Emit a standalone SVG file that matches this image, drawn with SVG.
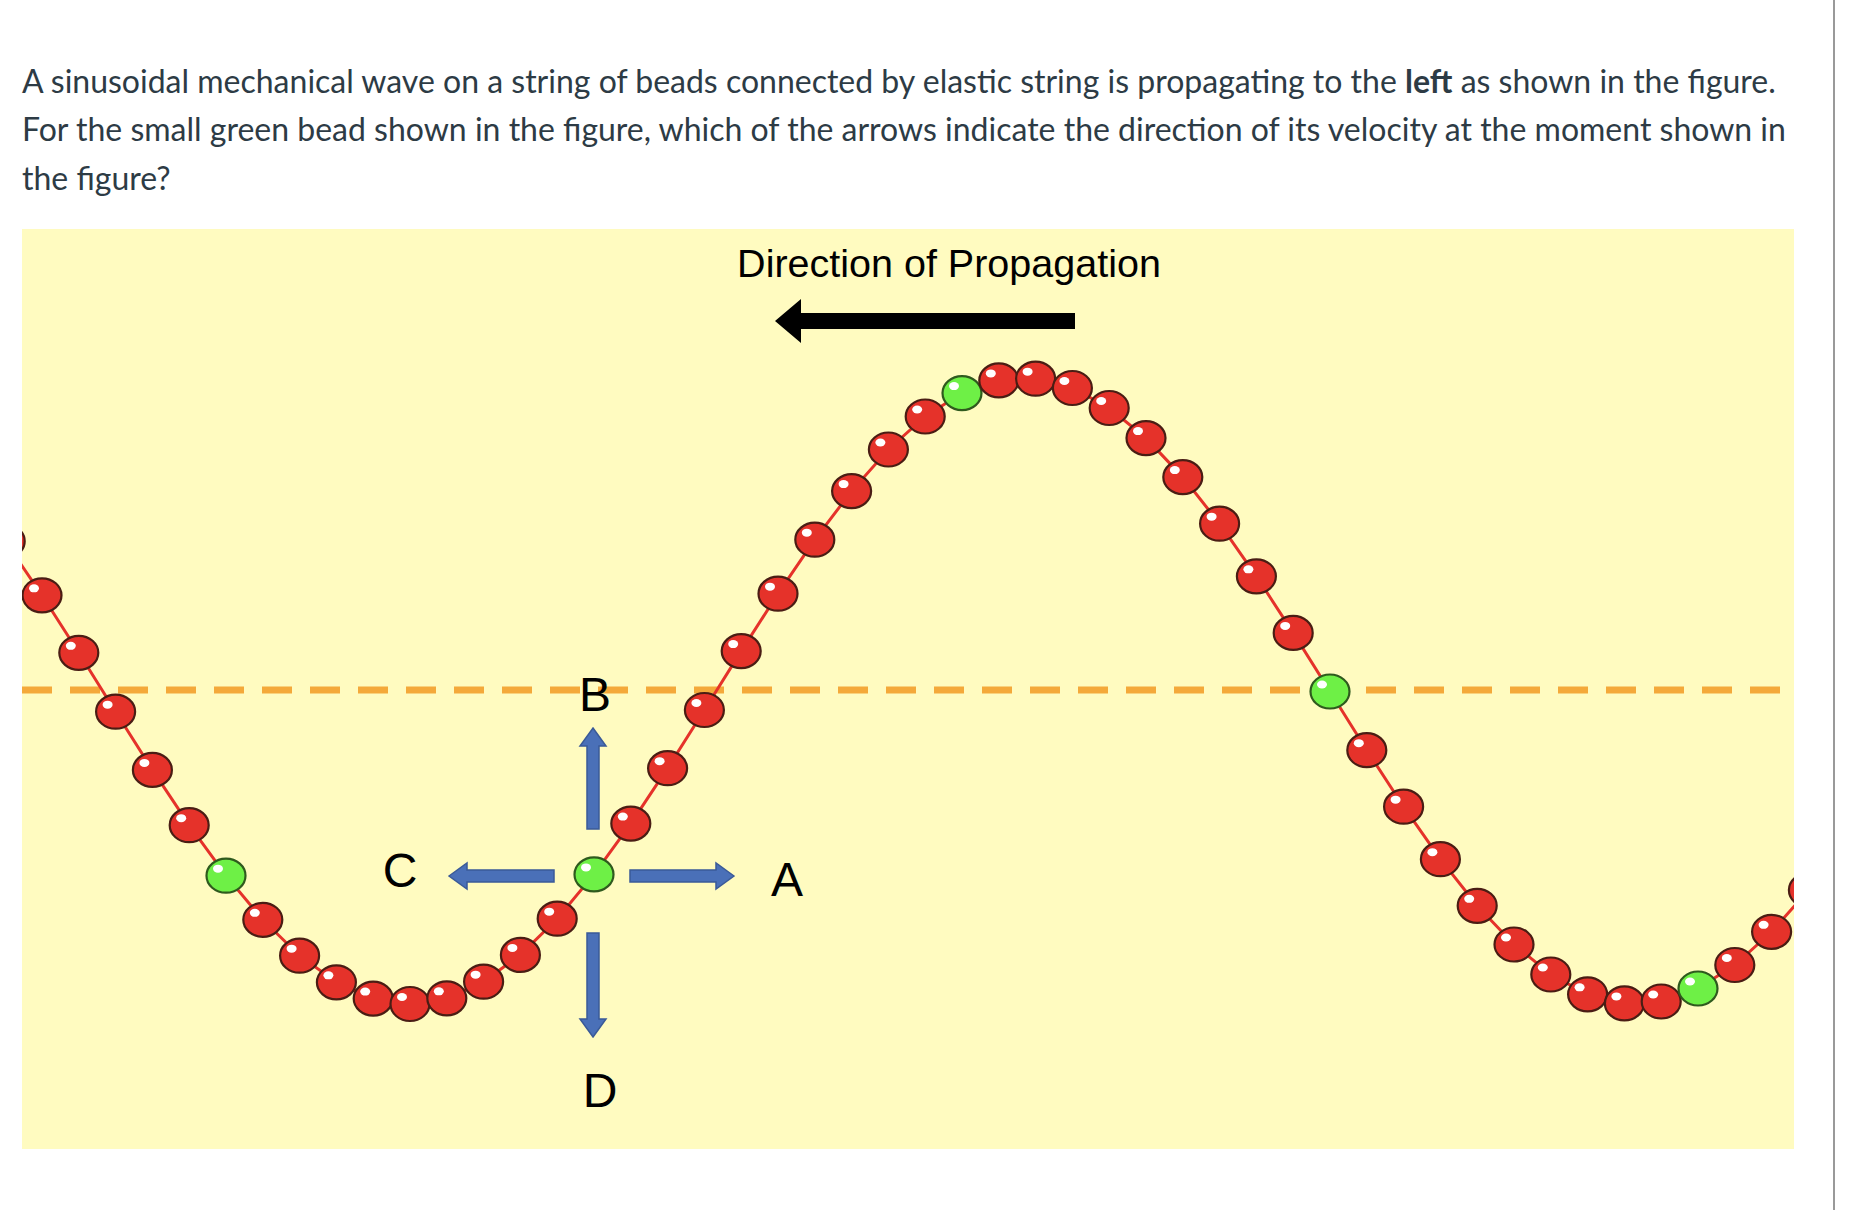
<svg xmlns="http://www.w3.org/2000/svg" width="1850" height="1210" viewBox="0 0 1850 1210">
<style>
.q{font-family:Lato,"Liberation Sans",sans-serif;font-size:32px;fill:#2d3b45}
.lbl{font-family:"Liberation Sans",Arial,sans-serif;font-size:48px;fill:#000;text-anchor:middle}
.r{fill:#e5322a;stroke:#4a1d14;stroke-width:2.2}
.g{fill:#6ef046;stroke:#2f5a1e;stroke-width:2.2}
.hl{fill:#fff}
.blue{fill:#4a70b8;stroke:#3a5a98;stroke-width:1.5}
</style>
<defs>
<clipPath id="panel"><rect x="22" y="229" width="1772" height="920"/></clipPath>
<g id="redbead"><ellipse rx="19.5" ry="17" class="r"/><ellipse cx="-8" cy="-7" rx="5" ry="4" class="hl"/></g>
<g id="greenbead"><ellipse rx="19.5" ry="17" class="g"/><ellipse cx="-8" cy="-7" rx="5" ry="4" class="hl"/></g>
</defs>
<rect width="1850" height="1210" fill="#fff"/>
<line x1="1834" y1="0" x2="1834" y2="1210" stroke="#999" stroke-width="2"/>
<text class="q" x="22" y="93">A sinusoidal mechanical wave on a string of beads connected by elastic string is propagating to the <tspan font-weight="bold">left</tspan> as shown in the figure.</text>
<text class="q" x="22" y="141">For the small green bead shown in the figure, which of the arrows indicate the direction of its velocity at the moment shown in</text>
<text class="q" x="22" y="190">the figure?</text>
<rect x="22" y="229" width="1772" height="920" fill="#fffbc0"/>
<g id="propagation">
<text x="949" y="277" font-family="'Liberation Sans',Arial,sans-serif" font-size="39.5" text-anchor="middle">Direction of Propagation</text>
<polygon points="775,321 801,299 801,313 1075,313 1075,329 801,329 801,343" fill="#000"/>
</g>
<line x1="22" y1="690" x2="1794" y2="690" stroke="#f4a93a" stroke-width="7" stroke-dasharray="30 18"/>
<g id="wave" clip-path="url(#panel)">
<polyline fill="none" stroke="#e5322a" stroke-width="3" points="5.2,541.2 42,595.3 78.8,652.8 115.6,711.7 152.4,769.9 189.2,825.2 226,875.7 262.8,919.8 299.6,955.7 336.4,982.3 373.2,998.6 410,1004 446.8,998.3 483.6,981.7 520.4,954.9 557.2,918.7 594,874.4 630.8,823.6 667.6,768.2 704.4,710 741.2,651.1 778,593.7 814.8,539.7 851.6,491.1 888.4,449.5 925.2,416.5 962,393.1 998.8,380.4 1035.6,378.7 1072.4,388 1109.2,408 1146,438.1 1182.8,477.1 1219.6,523.7 1256.4,576.3 1293.2,632.9 1330,691.5 1366.8,750.2 1403.6,806.7 1440.4,859.2 1477.2,905.8 1514,944.5 1550.8,974.5 1587.6,994.3 1624.4,1003.4 1661.2,1001.5 1698,988.5 1734.8,965 1771.6,931.8 1808.4,890.1"/>
<use href="#redbead" x="5.2" y="541.2"/><use href="#redbead" x="42" y="595.3"/><use href="#redbead" x="78.8" y="652.8"/><use href="#redbead" x="115.6" y="711.7"/><use href="#redbead" x="152.4" y="769.9"/><use href="#redbead" x="189.2" y="825.2"/><use href="#greenbead" x="226" y="875.7"/><use href="#redbead" x="262.8" y="919.8"/><use href="#redbead" x="299.6" y="955.7"/><use href="#redbead" x="336.4" y="982.3"/><use href="#redbead" x="373.2" y="998.6"/><use href="#redbead" x="410" y="1004"/><use href="#redbead" x="446.8" y="998.3"/><use href="#redbead" x="483.6" y="981.7"/><use href="#redbead" x="520.4" y="954.9"/><use href="#redbead" x="557.2" y="918.7"/><use href="#greenbead" x="594" y="874.4"/><use href="#redbead" x="630.8" y="823.6"/><use href="#redbead" x="667.6" y="768.2"/><use href="#redbead" x="704.4" y="710"/><use href="#redbead" x="741.2" y="651.1"/><use href="#redbead" x="778" y="593.7"/><use href="#redbead" x="814.8" y="539.7"/><use href="#redbead" x="851.6" y="491.1"/><use href="#redbead" x="888.4" y="449.5"/><use href="#redbead" x="925.2" y="416.5"/><use href="#greenbead" x="962" y="393.1"/><use href="#redbead" x="998.8" y="380.4"/><use href="#redbead" x="1035.6" y="378.7"/><use href="#redbead" x="1072.4" y="388"/><use href="#redbead" x="1109.2" y="408"/><use href="#redbead" x="1146" y="438.1"/><use href="#redbead" x="1182.8" y="477.1"/><use href="#redbead" x="1219.6" y="523.7"/><use href="#redbead" x="1256.4" y="576.3"/><use href="#redbead" x="1293.2" y="632.9"/><use href="#greenbead" x="1330" y="691.5"/><use href="#redbead" x="1366.8" y="750.2"/><use href="#redbead" x="1403.6" y="806.7"/><use href="#redbead" x="1440.4" y="859.2"/><use href="#redbead" x="1477.2" y="905.8"/><use href="#redbead" x="1514" y="944.5"/><use href="#redbead" x="1550.8" y="974.5"/><use href="#redbead" x="1587.6" y="994.3"/><use href="#redbead" x="1624.4" y="1003.4"/><use href="#redbead" x="1661.2" y="1001.5"/><use href="#greenbead" x="1698" y="988.5"/><use href="#redbead" x="1734.8" y="965"/><use href="#redbead" x="1771.6" y="931.8"/><use href="#redbead" x="1808.4" y="890.1"/>
</g>
<g id="arrow-B"><polygon class="blue" points="593,728 606,746 599,746 599,829 587,829 587,746 580,746"/></g>
<g id="arrow-D"><polygon class="blue" points="593,1037 606,1019 599,1019 599,933 587,933 587,1019 580,1019"/></g>
<g id="arrow-A"><polygon class="blue" points="734,876 716,863 716,870 630,870 630,882 716,882 716,889"/></g>
<g id="arrow-C"><polygon class="blue" points="449,876 467,863 467,870 554,870 554,882 467,882 467,889"/></g>
<text class="lbl" x="595" y="711">B</text>
<text class="lbl" x="787" y="896">A</text>
<text class="lbl" x="400" y="887">C</text>
<text class="lbl" x="600" y="1107">D</text>
</svg>
